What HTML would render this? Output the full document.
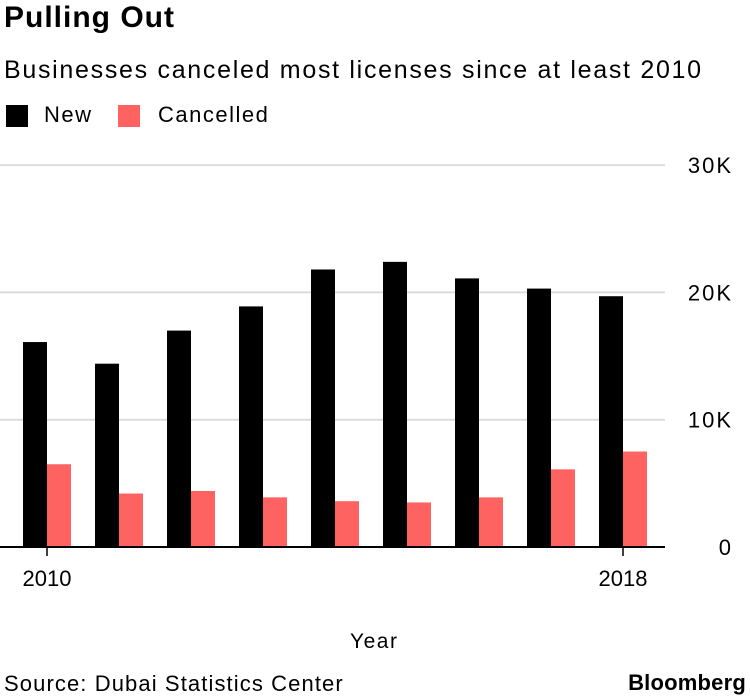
<!DOCTYPE html>
<html><head><meta charset="utf-8"><style>
body{margin:0;background:#fff;font-family:"Liberation Sans",sans-serif;}
#wrap{position:relative;width:750px;height:696px;overflow:hidden;}
.t{position:absolute;white-space:nowrap;color:#000;}
</style></head><body>
<div id="wrap">
<div class="t" style="left:4px;top:1px;font-size:30px;font-weight:bold;letter-spacing:1px">Pulling Out</div>
<div class="t" style="left:4px;top:56px;font-size:25px;letter-spacing:1.7px">Businesses canceled most licenses since at least 2010</div>
<div style="position:absolute;left:6px;top:105px;width:22px;height:22px;background:#000"></div>
<div class="t" style="left:44px;top:102px;font-size:22px;letter-spacing:1.5px">New</div>
<div style="position:absolute;left:118px;top:105px;width:22px;height:22px;background:#ff6361"></div>
<div class="t" style="left:158px;top:102px;font-size:22px;letter-spacing:1.5px">Cancelled</div>
<svg id="chart" width="750" height="696" style="position:absolute;left:0;top:0"></svg>
<div class="t" style="left:350px;top:630px;font-size:21px;letter-spacing:1.5px">Year</div>
<div class="t" style="left:4px;top:671px;font-size:22px;letter-spacing:1.1px">Source: Dubai Statistics Center</div>
<div class="t" style="right:4px;top:670px;font-size:22px;font-weight:bold;letter-spacing:0.2px">Bloomberg</div>
</div>
<script>
const years=[2010,2011,2012,2013,2014,2015,2016,2017,2018];
const newVals=[16.1,14.4,17.0,18.9,21.8,22.4,21.1,20.3,19.7];
const cancelledVals=[6.5,4.2,4.4,3.9,3.6,3.5,3.9,6.1,7.5];
const yTicks=[0,10,20,30];
const yTickLabels=["0","10K","20K","30K"];
const xTickYears=[2010,2018];
const NS="http://www.w3.org/2000/svg";
const svg=document.getElementById('chart');
const y0=547,pxPer=12.73;
function yScale(v){return y0-v*pxPer;}
function xGroup(i){return 23+i*72;}
const barW=24;
function mk(tag,attrs){const e=document.createElementNS(NS,tag);for(const k in attrs)e.setAttribute(k,attrs[k]);svg.appendChild(e);return e;}
yTicks.forEach((t,i)=>{
  if(t>0){const g=mk('line',{x1:0,x2:665,y1:yScale(t),y2:yScale(t),stroke:'#dcdcdc','stroke-width':2});
  
  }
  const l=mk('text',{x:733,y:yScale(t)+8,'text-anchor':'end','font-size':22,'letter-spacing':2,'font-family':'Liberation Sans, sans-serif'});
  l.textContent=yTickLabels[i];
  
  
});
years.forEach((yr,i)=>{
  const x=xGroup(i);
  const b=mk('rect',{x:x,y:yScale(newVals[i]),width:barW,height:newVals[i]*pxPer,fill:'#000'});
  
  
  const c=mk('rect',{x:x+barW,y:yScale(cancelledVals[i]),width:barW,height:cancelledVals[i]*pxPer,fill:'#ff6361'});
  
  
});
const ax=mk('line',{x1:0,x2:665,y1:y0,y2:y0,stroke:'#000','stroke-width':2});


xTickYears.forEach(yr=>{
  const i=years.indexOf(yr);const x=xGroup(i)+barW;
  const t=mk('line',{x1:x,x2:x,y1:y0,y2:y0+9,stroke:'#000','stroke-width':1.5});
  
  
  const l=mk('text',{x:x,y:586,'text-anchor':'middle','font-size':22,'font-family':'Liberation Sans, sans-serif'});
  l.textContent=yr;
  
  
});
</script>
</body></html>
